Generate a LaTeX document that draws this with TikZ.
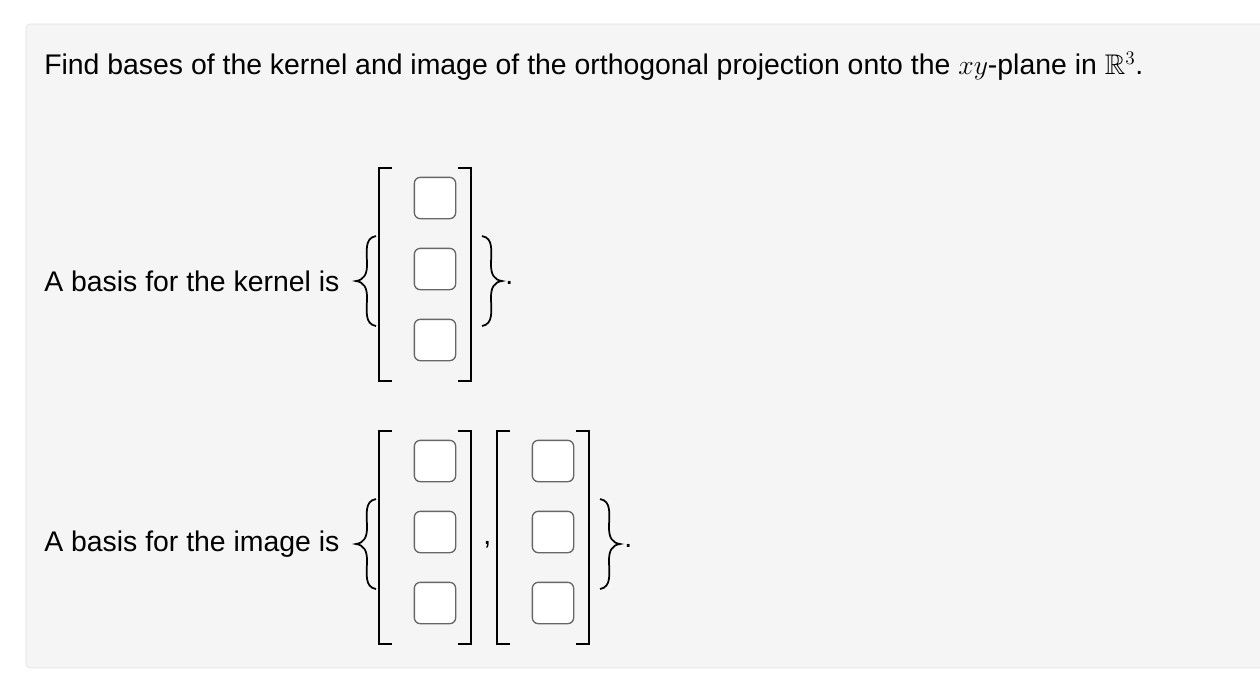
\documentclass[tikz,border=0pt]{standalone}
\usepackage{fontspec}
\setmainfont{Liberation Sans}
\usepackage{amssymb}
\begin{document}
\begin{tikzpicture}[x=0.75pt,y=-0.75pt,
  ansbox/.style={draw=gray!80!black,fill=white,rounded corners=4.5pt,minimum width=31pt,minimum height=31pt,line width=1pt,inner sep=0pt},
  brk/.style={line width=1.5pt,black},
  brc/.style={line width=1.3pt,black},
  lbl/.style={font=\fontsize{21.3pt}{25pt}\selectfont,anchor=west,inner sep=0pt}]
\useasboundingbox (0,0) rectangle (1260,694);
\draw[fill=black!4,draw=black!12,rounded corners=3pt] (26,24) rectangle (1266,668);
\node[lbl] (title) at (44,66) {Find bases of the kernel and image of the orthogonal projection onto the $xy$-plane in $\mathbb{R}^3$.};
\node[lbl] (kl) at (44,281) {A basis for the kernel is};
\node[lbl] (il) at (44,544) {A basis for the image is};
% kernel
\foreach \n/\y in {k1/198,k2/269,k3/340} \node[ansbox] (\n) at (435,\y) {};
\draw[brk] (392,168) -- (379,168) -- (379,381) -- (392,381);
\draw[brk] (458,168) -- (471,168) -- (471,381) -- (458,381);
\draw[brc] (376,236) .. controls (364,238) and (367,252) .. (367,265) .. controls (367,274) and (364,280) .. (356,281) .. controls (364,282) and (367,288) .. (367,297) .. controls (367,310) and (364,324) .. (376,326);
\draw[brc] (482,236) .. controls (494,238) and (491,252) .. (491,265) .. controls (491,274) and (494,280) .. (502,281) .. controls (494,282) and (491,288) .. (491,297) .. controls (491,310) and (494,324) .. (482,326);
\node[lbl] (kp) at (505,283) {.};
% image
\foreach \n/\y in {a1/461,a2/532,a3/603} \node[ansbox] (\n) at (435,\y) {};
\foreach \n/\y in {b1/461,b2/532,b3/603} \node[ansbox] (\n) at (553,\y) {};
\draw[brk] (392,431) -- (379,431) -- (379,644) -- (392,644);
\draw[brk] (458,431) -- (471,431) -- (471,644) -- (458,644);
\draw[brk] (510,431) -- (497,431) -- (497,644) -- (510,644);
\draw[brk] (576,431) -- (589,431) -- (589,644) -- (576,644);
\node[lbl] (cm) at (483,545) {,};
\draw[brc] (376,499) .. controls (364,501) and (367,515) .. (367,528) .. controls (367,537) and (364,543) .. (356,544) .. controls (364,545) and (367,551) .. (367,560) .. controls (367,573) and (364,587) .. (376,589);
\draw[brc] (600,499) .. controls (612,501) and (609,515) .. (609,528) .. controls (609,537) and (612,543) .. (620,544) .. controls (612,545) and (609,551) .. (609,560) .. controls (609,573) and (612,587) .. (600,589);
\node[lbl] (ip) at (624,546) {.};
\end{tikzpicture}
\end{document}
